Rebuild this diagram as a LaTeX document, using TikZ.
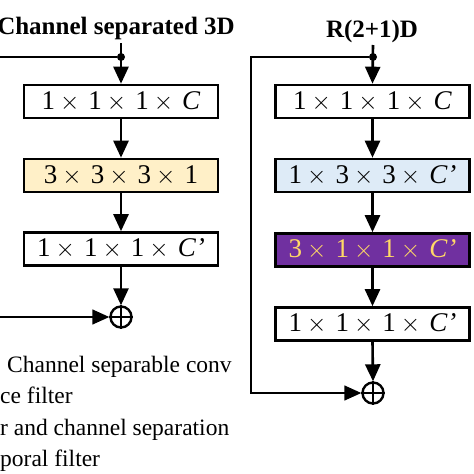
\documentclass[tikz,border=0pt]{standalone}
\usepackage{fontspec}
\setmainfont{Liberation Serif}
\usetikzlibrary{arrows.meta}
\definecolor{paleyellow}{HTML}{FFF0C8}
\definecolor{paleblue}{HTML}{DEEBF7}
\definecolor{deeppurple}{HTML}{7030A0}
\definecolor{goldtext}{HTML}{FFD966}
\newcommand{\tms}{\hspace{5pt}$\times$\hspace{9pt}}
\begin{document}
\begin{tikzpicture}[x=1pt,y=-1pt,
  blk/.style={draw=black, line width=2.6pt, minimum width=194pt, minimum height=33pt,
    inner sep=0pt, font=\fontsize{27}{30}\selectfont},
  flow/.style={line width=2.6pt, -{Triangle[length=17pt,width=15pt]}},
  skipline/.style={line width=1.4pt},
  skiparrow/.style={line width=1.4pt, -{Triangle[length=17pt,width=15pt]}},
  sumnode/.style={draw=black, line width=2.4pt, circle, minimum size=21pt, inner sep=0pt},
  plusline/.style={line width=1.5pt},
  dotnode/.style={fill=black, circle, minimum size=8pt, inner sep=0pt},
  title/.style={font=\fontsize{25}{30}\selectfont\bfseries, inner sep=0pt},
  legend/.style={font=\fontsize{23.5}{28}\selectfont, inner sep=0pt, anchor=base west}
]
\useasboundingbox (0,0) rectangle (474,474);

% ---------- left column: Channel separated 3D ----------
\node[title, anchor=base east] (tl) at (235,34) {Channel separated 3D};
\coordinate (inl) at (121,43);
\node[dotnode] (dl) at (121,57) {};
\coordinate (skl) at (0,57);
\node[blk] (l1) at (121,101.5) {1\tms 1\tms 1\tms \textit{C}};
\node[blk, fill=paleyellow] (l2) at (121,175.5) {3\tms 3\tms 3\tms 1};
\node[blk] (l3) at (121,249) {1\tms 1\tms 1\tms \textit{C’}};
\node[sumnode] (sl) at (121,317) {};
\coordinate (skl2) at (0,317);
\draw[plusline] (sl.north) -- (sl.south) (sl.west) -- (sl.east);

\draw[flow] (inl) -- (l1.north);
\draw[skipline] (skl) -- (dl);
\draw[flow] (l1.south) -- (l2.north);
\draw[flow] (l2.south) -- (l3.north);
\draw[flow] (l3.south) -- (sl.north);
\draw[skiparrow] (skl2) -- (sl.west);

% ---------- right column: R(2+1)D ----------
\node[title, anchor=base] (tr) at (372,37) {R(2+1)D};
\coordinate (inr) at (373,45);
\node[dotnode] (dr) at (373,57) {};
\coordinate (c1) at (251,57);
\coordinate (c2) at (251,393);
\node[blk] (r1) at (372.5,101.5) {1\tms 1\tms 1\tms \textit{C}};
\node[blk, fill=paleblue] (r2) at (372.5,175.5) {1\tms 3\tms 3\tms \textit{C’}};
\node[blk, fill=deeppurple, text=goldtext] (r3) at (372.5,250) {3\tms 1\tms 1\tms \textit{C’}};
\node[blk] (r4) at (372.5,324) {1\tms 1\tms 1\tms \textit{C’}};
\node[sumnode] (sr) at (373,393) {};
\draw[plusline] (sr.north) -- (sr.south) (sr.west) -- (sr.east);

\draw[flow] (inr) -- (r1.north);
\draw[flow] (r1.south) -- (r2.north);
\draw[flow] (r2.south) -- (r3.north);
\draw[flow] (r3.south) -- (r4.north);
\draw[flow] (r4.south) -- (sr.north);
\draw[skiparrow] (dr) -- (c1) -- (c2) -- (sr.west);

% ---------- legend (cut off at left) ----------
\node[legend] (g1) at (7,372) {Channel separable conv};
\node[legend] (g2) at (0,403) {ce filter};
\node[legend] (g3) at (0,435) {r and channel separation};
\node[legend] (g4) at (0,466) {poral filter};
\end{tikzpicture}
\end{document}
